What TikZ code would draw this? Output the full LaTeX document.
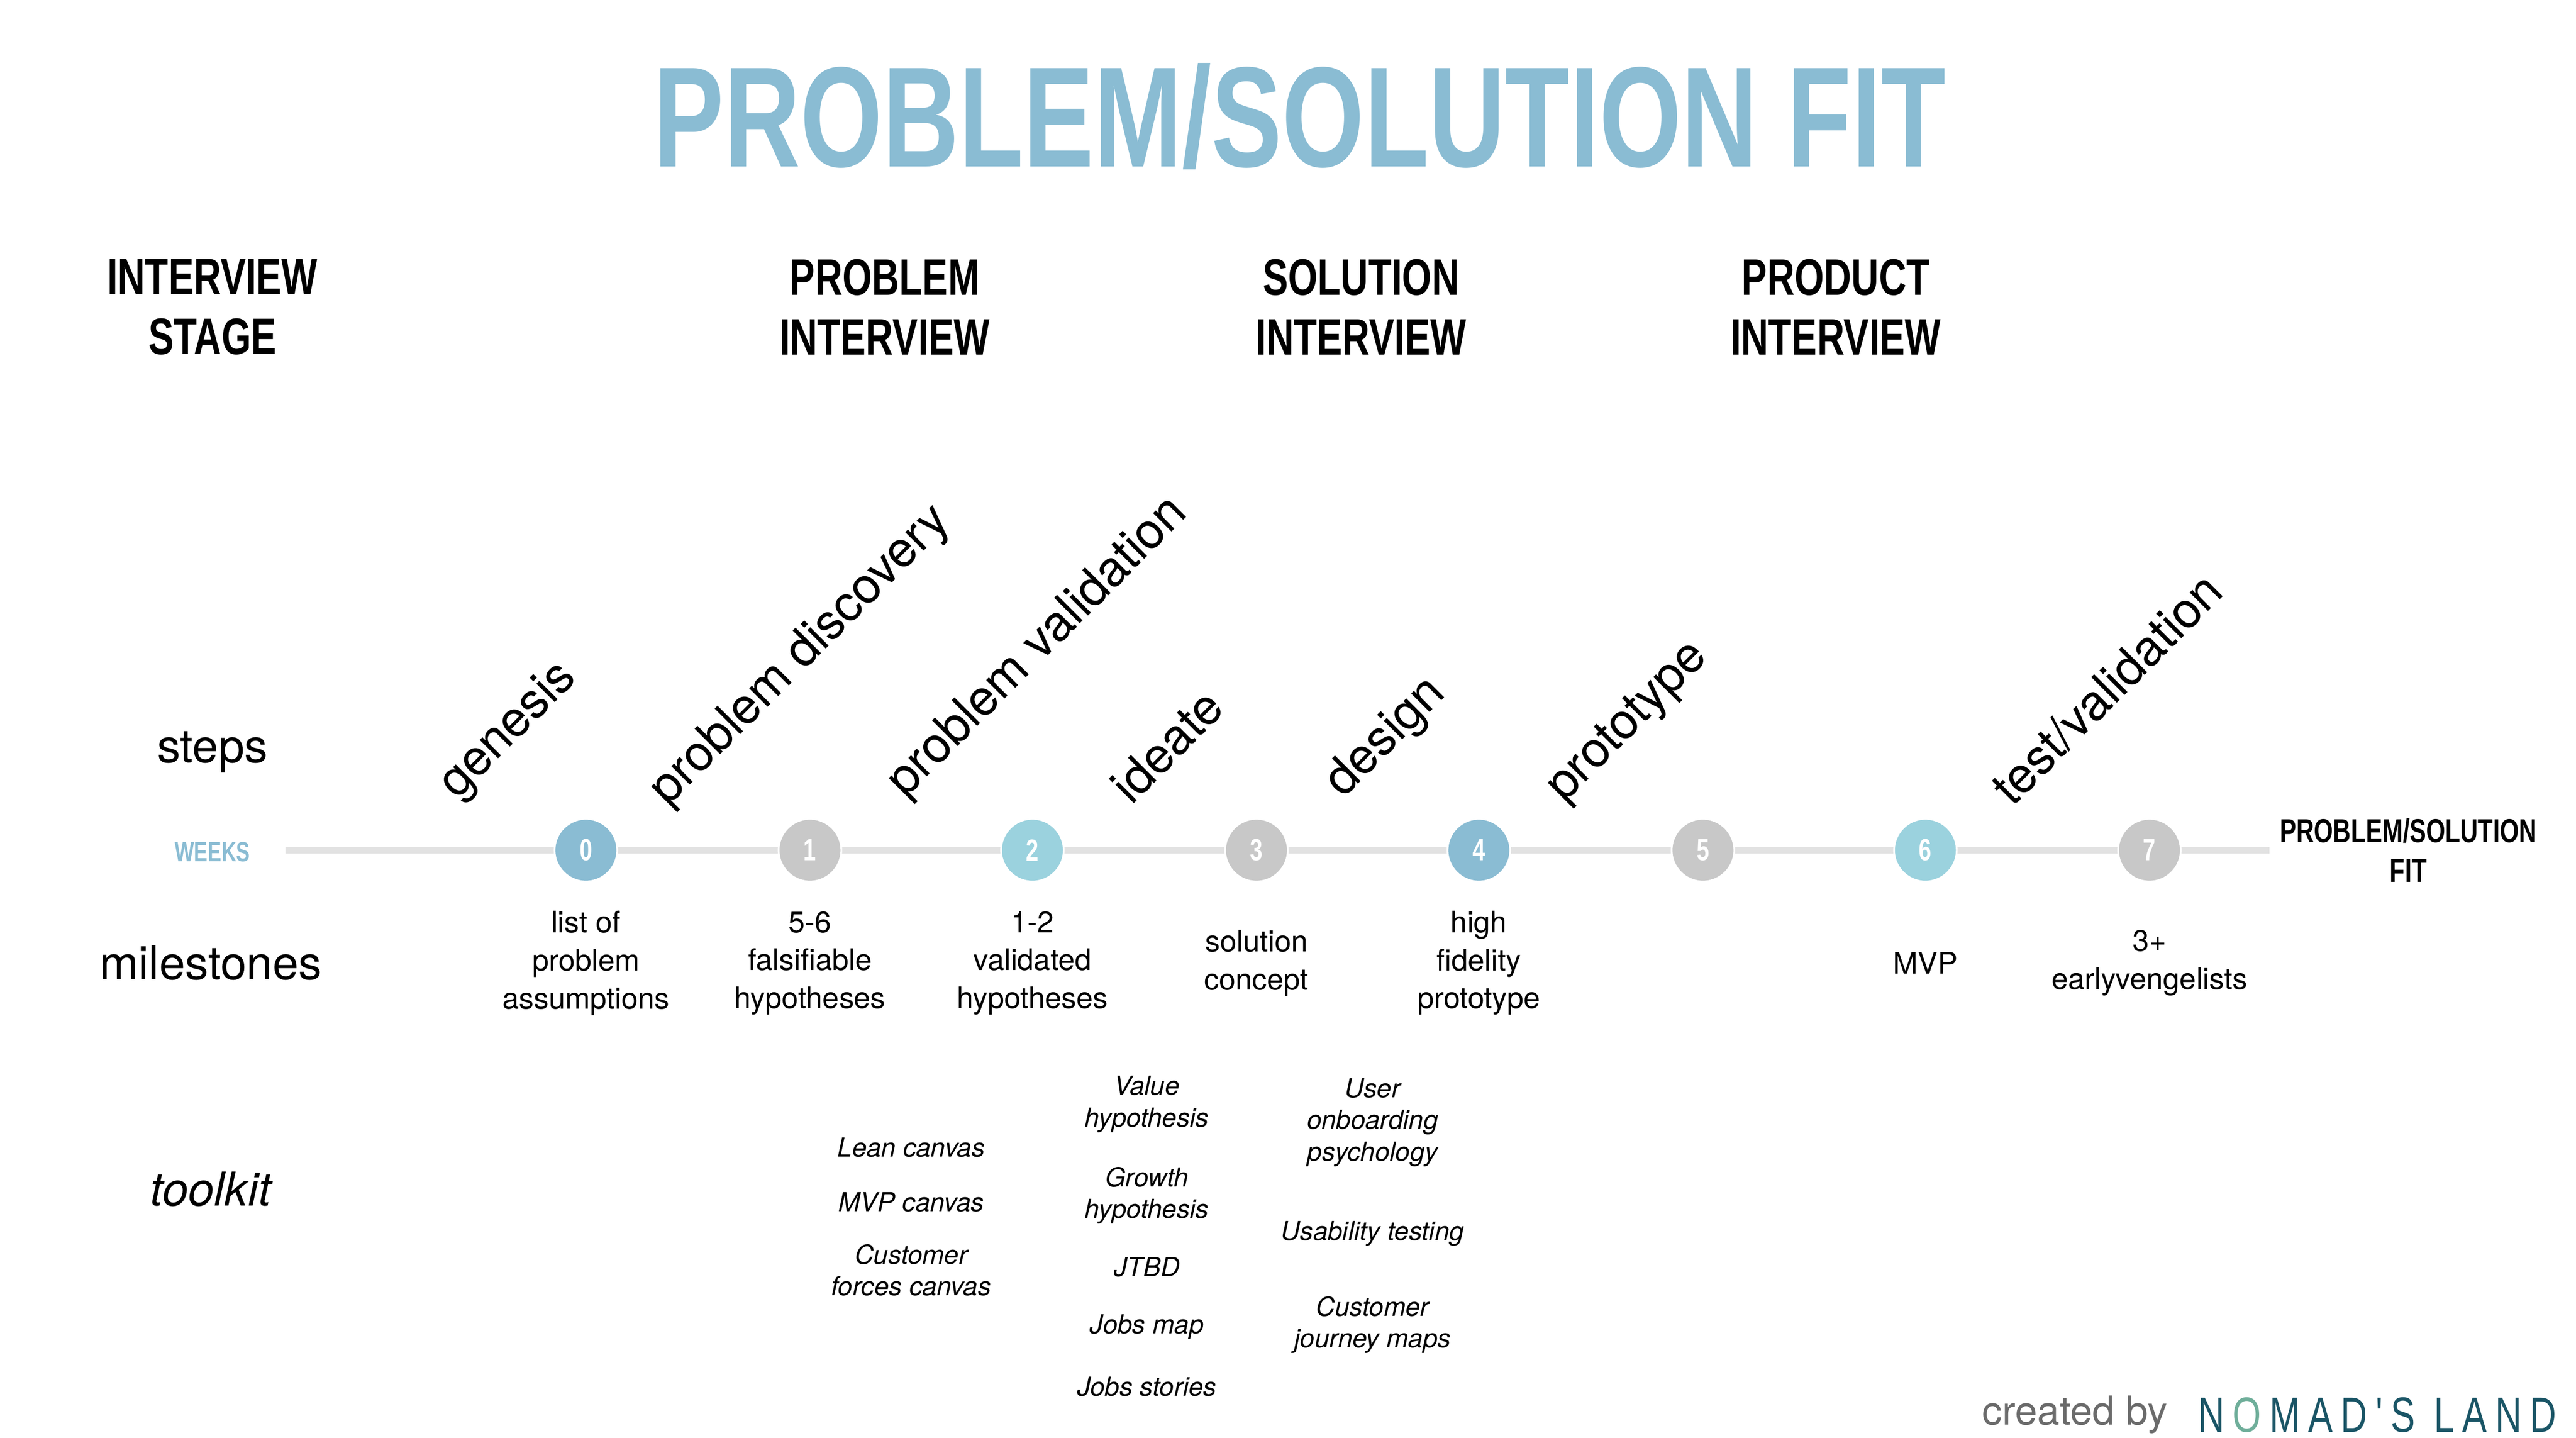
\documentclass[tikz,border=0pt]{standalone}
\usepackage{fontspec}
\setmainfont{TeX Gyre Heros}
\newfontfamily\condfont{Liberation Sans}[FakeStretch=0.74]
\usetikzlibrary{positioning}
\definecolor{fitblue}{HTML}{8ABCD3}
\definecolor{fitlight}{HTML}{9BD2DE}
\definecolor{fitgray}{HTML}{C8C8C8}
\definecolor{fitline}{HTML}{E2E2E2}
\definecolor{nomad}{HTML}{1A5566}
\definecolor{globe}{HTML}{6FAE9A}
\tikzset{
  head/.style={align=center, font=\condfont\bfseries\fontsize{17.6}{20.5}\selectfont},
  side/.style={font=\fontsize{16}{18}\selectfont},
  stepname/.style={rotate=45, anchor=south west, inner sep=0pt, font=\fontsize{17}{20}\selectfont},
  week/.style={circle, minimum size=21.5pt, inner sep=0pt, text=white, font=\condfont\bfseries\fontsize{10.5}{11}\selectfont},
  mile/.style={align=center, font=\fontsize{10.2}{13}\selectfont},
  tool/.style={align=center, font=\itshape\fontsize{9}{10.8}\selectfont}
}
\begin{document}
\begin{tikzpicture}[x=0.02cm, y=-0.02cm]
\useasboundingbox (0,0) rectangle (1552,866);
% title and stages
\node[font=\condfont\bfseries\fontsize{49}{50}\selectfont, text=fitblue] (title) at (783,70) {PROBLEM/SOLUTION FIT};
\node[head] (stage) at (128,185) {INTERVIEW\\STAGE};
\node[head] (probint) at (533,185) {PROBLEM\\INTERVIEW};
\node[head] (solint) at (820,185) {SOLUTION\\INTERVIEW};
\node[head] (prodint) at (1106,185) {PRODUCT\\INTERVIEW};
% row labels
\node[side] (steps) at (128,453) {steps};
\node[side] (milestones) at (127,580) {milestones};
\node[side, font=\itshape\fontsize{16}{18}\selectfont] (toolkit) at (127,716) {toolkit};
\node[font=\condfont\bfseries\fontsize{9.5}{10}\selectfont, text=fitblue] (weeks) at (128,513) {WEEKS};
% timeline
\coordinate (start) at (172,512);
\node[head, font=\condfont\bfseries\fontsize{11.4}{13.7}\selectfont] (fit) at (1451,512) {PROBLEM/SOLUTION\\FIT};
\draw[fitline, line width=2.3pt] (start) -- (fit.west);
\foreach \i/\x/\c in {0/353/fitblue,1/488/fitgray,2/622/fitlight,3/757/fitgray,4/891/fitblue,5/1026/fitgray,6/1160/fitlight,7/1295/fitgray}
  \node[week, fill=\c, draw=white, line width=0.6pt] (w\i) at (\x,512) {\i};
% steps
\node[stepname] (genesis) at (280,487) {genesis};
\node[stepname] (discovery) at (407,491) {problem discovery};
\node[stepname] (validation) at (550,486) {problem validation};
\node[stepname] (ideate) at (682,486) {ideate};
\node[stepname] (design) at (814,486) {design};
\node[stepname] (prototype) at (947,489) {prototype};
\node[stepname] (test) at (1213,487) {test/validation};
% milestones
\node[mile] (m0) at (353,580) {list of\\problem\\assumptions};
\node[mile] (m1) at (488,580) {5-6\\falsifiable\\hypotheses};
\node[mile] (m2) at (622,580) {1-2\\validated\\hypotheses};
\node[mile] (m3) at (757,580) {solution\\concept};
\node[mile] (m4) at (891,580) {high\\fidelity\\prototype};
\node[mile] (m6) at (1160,580) {MVP};
\node[mile] (m7) at (1295,580) {3+\\earlyvengelists};
% toolkit
\node[tool] (lean) at (549,691) {Lean canvas};
\node[tool] (mvpc) at (549,724) {MVP canvas};
\node[tool] (forces) at (549,765) {Customer\\forces canvas};
\node[tool] (value) at (691,665) {Value\\hypothesis};
\node[tool] (growth) at (691,720) {Growth\\hypothesis};
\node[tool] (jtbd) at (691,763) {JTBD};
\node[tool] (jobsmap) at (691,799) {Jobs map};
\node[tool] (stories) at (691,835) {Jobs stories};
\node[tool] (onboard) at (827,676) {User\\onboarding\\psychology};
\node[tool] (usability) at (827,743) {Usability testing};
\node[tool] (journey) at (827,798) {Customer\\journey maps};
% credit
\node[anchor=east, text=black!58, font=\fontsize{13.7}{14}\selectfont] (credit) at (1312,852) {created by};
\node[anchor=west, text=nomad, font=\condfont\fontsize{17}{18}\selectfont] (nomad) at (1318,852) {N\,\textcolor{globe}{O}\,M\,A\,D\,'\,S\, L\,A\,N\,D};
\end{tikzpicture}
\end{document}
